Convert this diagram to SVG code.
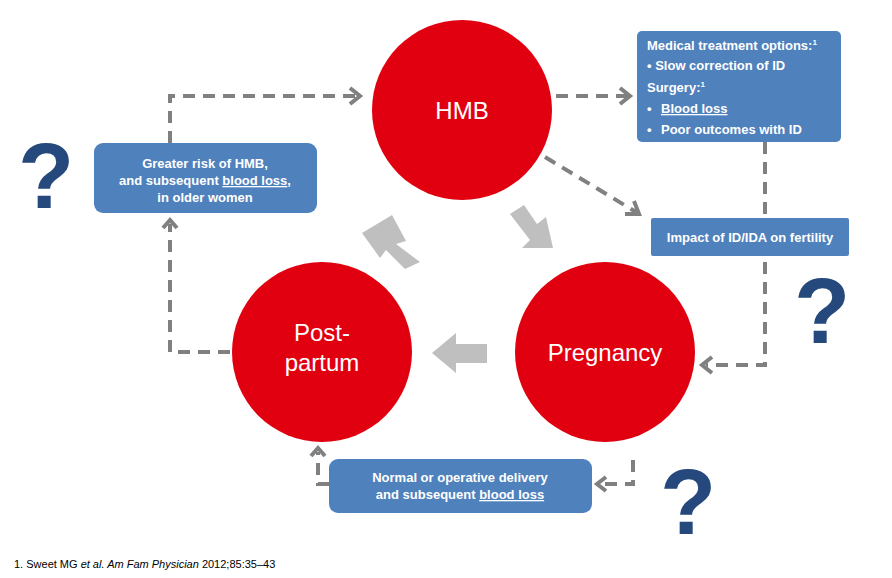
<svg xmlns="http://www.w3.org/2000/svg" width="892" height="578" viewBox="0 0 892 578">
<defs>
<style>
.c{fill:#e1000f}
.ct{fill:#fff;font-family:"Liberation Sans",Arial,sans-serif;font-size:24px;text-anchor:middle}
.b{fill:#4f81bd}
.bt{fill:#fff;font-family:"Liberation Sans",Arial,sans-serif;font-size:13px;font-weight:bold}
.q{fill:#25497d;font-family:"Liberation Sans",Arial,sans-serif;font-size:92px;font-weight:bold;text-anchor:middle}
.d{fill:none;stroke:#808080;stroke-width:4;stroke-dasharray:12,8}
.ah{fill:none;stroke:#808080;stroke-width:4}
.big{fill:#bfbfbf}
</style>
</defs>
<rect width="892" height="578" fill="#fff"/>
<g id="connectors">
<path class="d" d="M170,143 V96 H358"/><path class="ah" d="M350,88 L360,96 L350,104"/>
<path class="d" d="M556,96 H628"/><path class="ah" d="M620,88 L630,96 L620,104"/>
<path class="d" d="M545,157 L636,212"/><path class="ah" d="M625,214 L639,214 L634,201"/>
<path class="d" d="M765,142 V365 H706"/><path class="ah" d="M712,357 L702,365 L712,373"/>
<path class="d" d="M633,460 V484 H600"/><path class="ah" d="M606,477 L597,484 L606,491"/>
<path class="d" d="M329,484 H318 V452"/><path class="ah" d="M311,456 L318,448 L325,456"/>
<path class="d" d="M230,352 H170 V224"/><path class="ah" d="M163,228 L170,220 L177,228"/>
<polygon class="big" points="362,233 392,215 406,241 396,244 420,262 405,269 386,250 380,258"/>
<polygon class="big" points="510,214 524,205 537,224 546,217 553,248 522,248 530,240"/>
<polygon class="big" points="432,353 456,333 456,344 487,344 487,363 456,363 456,373"/>
</g>
<g id="hmb"><circle class="c" cx="462" cy="110" r="90"/><text class="ct" x="462" y="119">HMB</text></g>
<g id="postpartum"><circle class="c" cx="322" cy="352" r="90"/><text class="ct" x="322" y="341">Post-</text><text class="ct" x="322" y="371">partum</text></g>
<g id="pregnancy"><circle class="c" cx="605" cy="352" r="90"/><text class="ct" x="605" y="361">Pregnancy</text></g>
<g id="medical"><rect class="b" x="637" y="31" width="204" height="111" rx="5"/>
<text class="bt" x="647" y="50">Medical treatment options:<tspan font-size="8" dy="-5">1</tspan></text>
<text class="bt" x="647" y="70">• Slow correction of ID</text>
<text class="bt" x="647" y="92">Surgery:<tspan font-size="8" dy="-5">1</tspan></text>
<text class="bt" x="647" y="113">•<tspan x="661" text-decoration="underline">Blood loss</tspan></text>
<text class="bt" x="647" y="134">•<tspan x="661">Poor outcomes with ID</tspan></text></g>
<g id="impact"><rect class="b" x="651" y="218" width="198" height="38" rx="2"/><text class="bt" x="750" y="242" text-anchor="middle">Impact of ID/IDA on fertility</text></g>
<g id="older"><rect class="b" x="94" y="143" width="223" height="70" rx="9"/>
<text class="bt" x="205" y="168" text-anchor="middle">Greater risk of HMB,</text>
<text class="bt" x="205" y="185" text-anchor="middle">and subsequent <tspan text-decoration="underline">blood loss</tspan>,</text>
<text class="bt" x="205" y="202" text-anchor="middle">in older women</text></g>
<g id="delivery"><rect class="b" x="329" y="459" width="263" height="54" rx="9"/>
<text class="bt" x="460" y="482" text-anchor="middle">Normal or operative delivery</text>
<text class="bt" x="460" y="499" text-anchor="middle">and subsequent <tspan text-decoration="underline">blood loss</tspan></text></g>
<text class="q" x="46" y="208">?</text>
<text class="q" x="822" y="343">?</text>
<text class="q" x="688" y="534">?</text>
<text x="14" y="568" font-family="Liberation Sans,Arial,sans-serif" font-size="11" fill="#000">1. Sweet MG <tspan font-style="italic">et al. Am Fam Physician</tspan> 2012;85:35–43</text>
</svg>
